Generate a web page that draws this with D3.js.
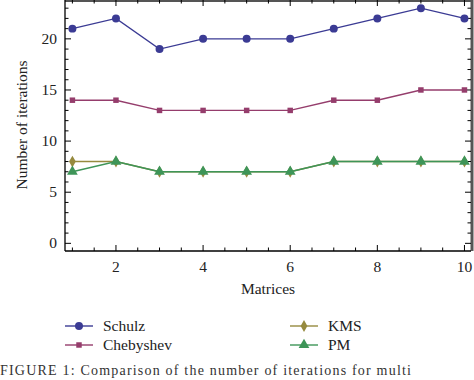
<!DOCTYPE html>
<html><head><meta charset="utf-8">
<script src="https://cdn.jsdelivr.net/npm/d3@7"></script>
<style>body{margin:0;background:#fff;} svg{display:block;}</style>
</head><body>
<svg id="c" width="474" height="380"></svg>
<script>
const matrices = [1,2,3,4,5,6,7,8,9,10];
const schulz    = [21,22,19,20,20,20,21,22,23,22];
const chebyshev = [14,14,13,13,13,13,14,14,15,15];
const kms       = [8,8,7,7,7,7,8,8,8,8];
const pm        = [7,8,7,7,7,7,8,8,8,8];
const xTicks = [2,4,6,8,10];
const yTicks = [0,5,10,15,20];
const seriesNames = ["Schulz","Chebyshev","KMS","PM"];

const font = "'Liberation Serif', 'DejaVu Serif', serif";
const svg = d3.select("#c");
const L = 65, R = 471, T = 0, B = 251;
const x = d3.scaleLinear().domain([0.83, 10.15]).range([L, R]);
const y = d3.scaleLinear().domain([-0.75, 23.8]).range([B, T]);

const series = [
  {name: seriesNames[0], vals: schulz,    color: "#3b3b94", sym: d3.symbolCircle,  size: 50},
  {name: seriesNames[1], vals: chebyshev, color: "#953d6c", sym: d3.symbolSquare,  size: 30},
  {name: seriesNames[2], vals: kms,       color: "#968a3e", sym: d3.symbolDiamond, size: 40},
  {name: seriesNames[3], vals: pm,        color: "#3e9558", sym: d3.symbolTriangle,size: 50}
];

// frame
svg.append("line").attr("x1",L).attr("x2",R).attr("y1",T+1).attr("y2",T+1).attr("stroke","#555").attr("stroke-width",2);
svg.append("line").attr("x1",R+1).attr("x2",R+1).attr("y1",T).attr("y2",B).attr("stroke","#555").attr("stroke-width",3);

// ticks
const xMinor = d3.range(1, 10.01, 0.5);
const yMinor = d3.range(0, 23.5, 1);
const g = svg.append("g").attr("stroke","#000").attr("stroke-width",1);
xMinor.forEach(v => {
  const major = xTicks.includes(v);
  const len = major ? 6 : 3.5;
  g.append("line").attr("x1",x(v)).attr("x2",x(v)).attr("y1",B).attr("y2",B-len);
  g.append("line").attr("x1",x(v)).attr("x2",x(v)).attr("y1",T).attr("y2",T+len);
});
yMinor.forEach(v => {
  const major = yTicks.includes(v);
  const len = major ? 6 : 3.5;
  g.append("line").attr("x1",L).attr("x2",L+len).attr("y1",y(v)).attr("y2",y(v));
  g.append("line").attr("x1",R).attr("x2",R-len).attr("y1",y(v)).attr("y2",y(v));
});
// axes lines
svg.append("line").attr("x1",L).attr("x2",R).attr("y1",B).attr("y2",B).attr("stroke","#000").attr("stroke-width",1.3);
svg.append("line").attr("x1",L).attr("x2",L).attr("y1",T).attr("y2",B).attr("stroke","#000").attr("stroke-width",1.3);

// tick labels
svg.selectAll(".xl").data(xTicks).enter().append("text")
  .attr("x", d => x(d)).attr("y", B+21).attr("text-anchor","middle")
  .attr("font-family",font).attr("font-size",15.5).attr("fill","#222").text(d => d);
svg.selectAll(".yl").data(yTicks).enter().append("text")
  .attr("x", L-8).attr("y", d => y(d)+5).attr("text-anchor","end")
  .attr("font-family",font).attr("font-size",15.5).attr("fill","#222").text(d => d);

svg.append("text").attr("x",268).attr("y",294).attr("text-anchor","middle")
  .attr("font-family",font).attr("font-size",15.5).attr("fill","#222").text("Matrices");
svg.append("text").attr("transform","translate(27,125) rotate(-90)").attr("text-anchor","middle")
  .attr("font-family",font).attr("font-size",15.5).attr("fill","#222").text("Number of iterations");

const line = d3.line().x((d,i) => x(matrices[i])).y(d => y(d));
const order = [1,0,2,3];
order.forEach(k => {
  const s = series[k];
  const sg = svg.append("g");
  sg.append("path").attr("d", line(s.vals)).attr("fill","none").attr("stroke",s.color).attr("stroke-width",1.4);
  sg.selectAll("path.m").data(s.vals).enter().append("path").attr("class","m")
    .attr("transform",(d,i) => `translate(${x(matrices[i])},${y(d)})`)
    .attr("d", d3.symbol().type(s.sym).size(s.size)).attr("fill", s.color);
});

// legend
const leg = [
  {s: series[0], lx: 65, ly: 326},
  {s: series[1], lx: 65, ly: 345},
  {s: series[2], lx: 290, ly: 326},
  {s: series[3], lx: 290, ly: 345}
];
leg.forEach(o => {
  svg.append("line").attr("x1",o.lx).attr("x2",o.lx+28).attr("y1",o.ly).attr("y2",o.ly)
    .attr("stroke",o.s.color).attr("stroke-width",1.4);
  svg.append("path").attr("transform",`translate(${o.lx+14},${o.ly})`)
    .attr("d", d3.symbol().type(o.s.sym).size(o.s.size)).attr("fill",o.s.color);
  svg.append("text").attr("x",o.lx+38).attr("y",o.ly+5).attr("font-family",font)
    .attr("font-size",15.5).attr("fill","#222").text(o.s.name);
});

// caption (at bottom, as in the reference)
svg.append("text").attr("x",0).attr("y",375).attr("font-family",font).attr("font-size",14).attr("fill","#333")
  .attr("letter-spacing","1.2").text("FIGURE 1: Comparison of the number of iterations for multi");
</script>
</body></html>
